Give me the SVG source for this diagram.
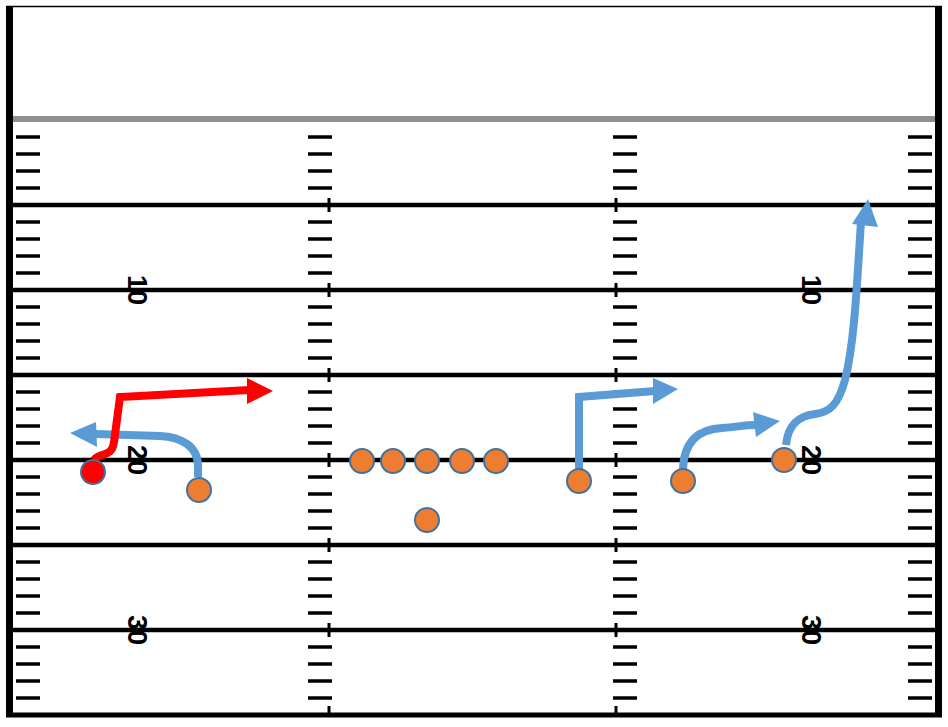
<svg xmlns="http://www.w3.org/2000/svg" xmlns:xlink="http://www.w3.org/1999/xlink" width="948" height="727" viewBox="0 0 948 727">
<style>
.yard{stroke:#000;stroke-width:4.5;fill:none}
.hash{stroke:#000;stroke-width:3.5;fill:none}
.tick{stroke:#000;stroke-width:3;fill:none}
.num{font-family:"Liberation Sans",Arial,sans-serif;font-weight:bold;font-size:27px;fill:#000}
.blue{stroke:#5B9BD5;stroke-width:8;fill:none;stroke-linejoin:miter}
.red{stroke:#FF0000;stroke-width:8;fill:none;stroke-linejoin:miter}
.bh{fill:#5B9BD5}
.rh{fill:#FF0000}
.pl{fill:#ED7D31;stroke:#41719C;stroke-width:2}
.pr{fill:#FF0000;stroke:#41719C;stroke-width:2}
</style>
<defs>
<path id="hashcol" class="hash" d="M0 137h24M0 154h24M0 171h24M0 188h24M0 222h24M0 239h24M0 256h24M0 273h24M0 307h24M0 324h24M0 341h24M0 358h24M0 392h24M0 409h24M0 426h24M0 443h24M0 477h24M0 494h24M0 511h24M0 528h24M0 562h24M0 579h24M0 596h24M0 613h24M0 647h24M0 664h24M0 681h24M0 698h24"/>
</defs>
<rect x="0" y="0" width="948" height="727" fill="#fff"/>
<g id="field">
<line x1="6" y1="6.5" x2="942" y2="6.5" stroke="#000" stroke-width="1.5"/>
<line x1="13" y1="119" x2="935" y2="119" stroke="#8F8F8F" stroke-width="6"/>
<path class="yard" d="M6 205H942M6 290H942M6 375H942M6 460H942M6 545H942M6 630H942"/>
<line x1="6" y1="715" x2="942" y2="715" stroke="#000" stroke-width="5"/>
<line x1="9.5" y1="6" x2="9.5" y2="717" stroke="#000" stroke-width="7"/>
<line x1="938.5" y1="6" x2="938.5" y2="717" stroke="#000" stroke-width="7"/>
<use xlink:href="#hashcol" x="16"/>
<use xlink:href="#hashcol" x="308"/>
<use xlink:href="#hashcol" x="613"/>
<use xlink:href="#hashcol" x="908"/>
<path class="tick" d="M329 198v14M329 283v14M329 368v14M329 453v14M329 538v14M329 623v14M329 706v9M616 198v14M616 283v14M616 368v14M616 453v14M616 538v14M616 623v14M616 706v9"/>
<text class="num" text-anchor="middle" transform="translate(128 290) rotate(90)">10</text>
<text class="num" text-anchor="middle" transform="translate(128 460) rotate(90)">20</text>
<text class="num" text-anchor="middle" transform="translate(128 630) rotate(90)">30</text>
<text class="num" text-anchor="middle" transform="translate(802 290) rotate(90)">10</text>
<text class="num" text-anchor="middle" transform="translate(802 460) rotate(90)">20</text>
<text class="num" text-anchor="middle" transform="translate(802 630) rotate(90)">30</text>
</g>
<g id="routes">
<path class="blue" d="M198 477 L198 466 C198 446,181 437,160 436 L95 434"/>
<polygon class="bh" points="96,422 70,433 97,447"/>
<path class="red" d="M94 460 C100 452,112 458,114 442 L120 397 L249 390"/>
<polygon class="rh" points="247,378 273,391 247,404"/>
<path class="blue" d="M579 469 L579 397 L655 391"/>
<polygon class="bh" points="653,378 678,389 653,404"/>
<path class="blue" d="M683 469 C684 440,700 429,722 428 C738 427,742 425,756 425"/>
<polygon class="bh" points="753,412 780,421 756,437"/>
<path class="blue" d="M786 445 C788 425,798 416,815 414 C830 412,838 405,845 380 C855 340,857 280,861 222"/>
<polygon class="bh" points="852,224 868,199 878,227"/>
</g>
<g id="players">
<circle id="p-red" class="pr" cx="93" cy="472" r="12"/>
<circle id="p1" class="pl" cx="199" cy="490" r="12"/>
<circle id="p2" class="pl" cx="362" cy="461" r="12"/>
<circle id="p3" class="pl" cx="393" cy="461" r="12"/>
<circle id="p4" class="pl" cx="427" cy="461" r="12"/>
<circle id="p5" class="pl" cx="462" cy="461" r="12"/>
<circle id="p6" class="pl" cx="496" cy="461" r="12"/>
<circle id="p7" class="pl" cx="427" cy="520" r="12"/>
<circle id="p8" class="pl" cx="579" cy="481" r="12"/>
<circle id="p9" class="pl" cx="683" cy="481" r="12"/>
<circle id="p10" class="pl" cx="784" cy="460" r="12"/>
</g>
</svg>
